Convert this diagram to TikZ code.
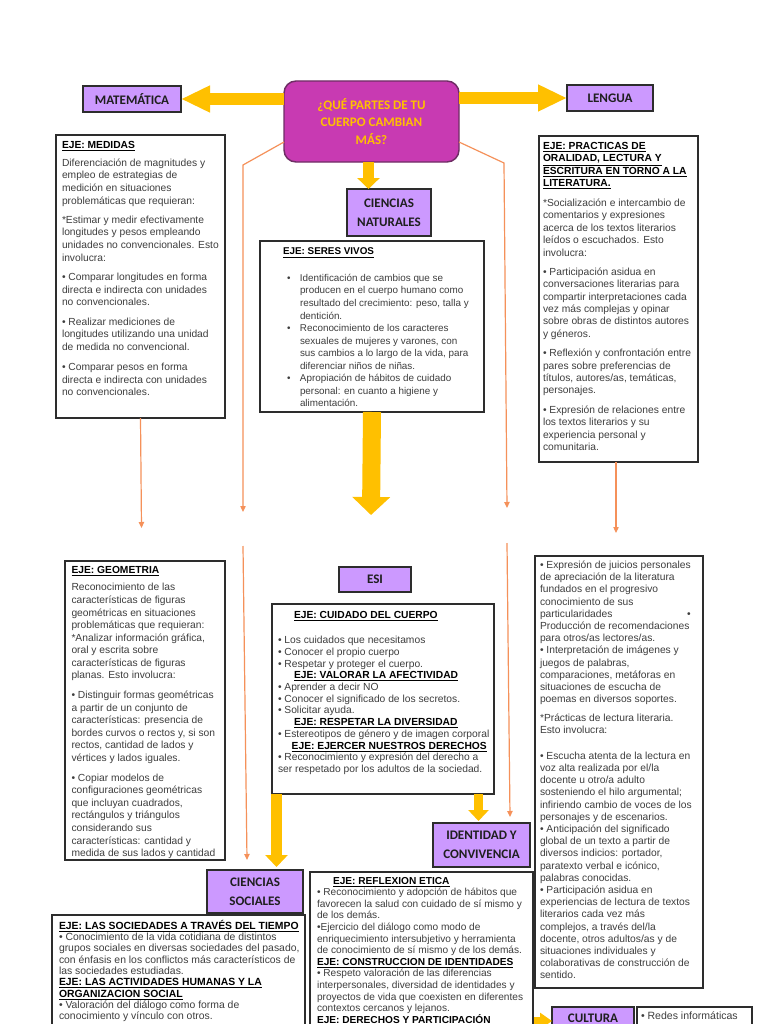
\documentclass[tikz,border=0pt]{standalone}
\usepackage{fontspec}
\setmainfont{Liberation Sans}
\newfontfamily\calfont{Carlito}
\usetikzlibrary{arrows.meta}
\definecolor{lila}{RGB}{204,153,255}
\definecolor{mag}{RGB}{200,58,178}
\definecolor{magb}{RGB}{110,45,100}
\definecolor{amar}{RGB}{255,192,0}
\definecolor{nar}{RGB}{245,145,90}
\definecolor{txt}{RGB}{62,62,62}
\definecolor{brd}{RGB}{45,45,45}
\newcommand\ejeh[1]{{\color{black}\underline{\textbf{#1}}}}
\newcommand\bul{\textbullet\ }
\newcommand\fz[2]{\fontsize{#1}{#2}\selectfont}
\newcommand\bi{\makebox[9.75pt][l]{\textbullet}}
\newcommand\ii{\hspace*{9.75pt}}
\tikzset{
  wh/.style 2 args={minimum width=#1*0.75pt, minimum height=#2*0.75pt},
  ebox/.style={draw=brd, line width=0.9pt, fill=white, inner sep=0pt, outer sep=0pt},
  lbl/.style={draw=brd, line width=0.9pt, fill=lila, inner sep=0pt, outer sep=0pt,
     align=center, text=black!88, font=\calfont\bfseries\fz{9.8}{14.2}},
  cenbox/.style={draw=magb, line width=1.1pt, fill=mag, rounded corners=9pt, inner sep=0pt,
     outer sep=0pt, align=center, text=amar, font=\calfont\bfseries\fz{9.8}{12.9}},
  tx/.style={anchor=north west, inner sep=0pt, outer sep=0pt, align=left, text=txt},
  oA/.style={draw=nar, line width=0.9pt, -{Triangle[width=4pt,length=4.5pt]}},
  yH/.style={draw=amar, line width=8.25pt, -{Triangle[width=18.75pt,length=21.75pt]}},
  yD/.style={draw=amar, line width=8.25pt, -{Triangle[width=16.5pt,length=8.25pt]}},
  yBig/.style={draw=amar, line width=13.5pt, -{Triangle[width=27.75pt,length=13.5pt]}},
  ySm/.style={draw=amar, line width=8.25pt, -{Triangle[width=16.5pt,length=9pt]}},
  yId/.style={draw=amar, line width=6.2pt, -{Triangle[width=15pt,length=8.25pt]}},
  yC/.style={draw=amar, line width=6pt, -{Triangle[width=12pt,length=9pt]}}
}
\begin{document}
\begin{tikzpicture}[x=0.75pt,y=-0.75pt]
\useasboundingbox (0,0) rectangle (768,1024);
\fill[white] (0,0) rectangle (768,1024);
\clip (0,0) rectangle (768,1024);

% ---------- top row
\node[lbl, wh={98}{26}] (mat) at (132,99) {MATEMÁTICA};
\node[cenbox, wh={175}{81}] (cen) at (371.5,121.5) {¿QUÉ PARTES DE TU\\CUERPO CAMBIAN\\MÁS?};
\node[lbl, wh={86}{26}] (len) at (610,98) {LENGUA};
\node[lbl, wh={84}{47}] (cn) at (389,212.5) {CIENCIAS\\NATURALES};

% ---------- boxes
\node[ebox, wh={169}{283}] (me) at (140.5,276.5) {};
\node[ebox, wh={224}{171}] (sv) at (372,326.5) {};
\node[ebox, wh={159}{326}] (pr) at (618.5,299) {};
\node[ebox, wh={160}{299}] (ge) at (145,710.5) {};
\node[lbl, wh={72}{25}] (esi) at (375,579.5) {ESI};
\node[ebox, wh={222}{190}] (cu) at (383,699) {};
\node[ebox, wh={168}{432}] (r2) at (619,772) {};
\node[lbl, wh={97}{44}] (id) at (481.5,845) {IDENTIDAD Y\\CONVIVENCIA};
\node[lbl, wh={96}{43}] (cs) at (255,891.5) {CIENCIAS\\SOCIALES};
\node[ebox, wh={253}{125}] (so) at (178.5,977.5) {};
\node[ebox, wh={223}{168}] (re) at (421.5,956) {};
\node[lbl, wh={82}{23}] (cul) at (593,1018.5) {CULTURA};
\node[ebox, wh={115}{33}] (rd) at (694.5,1023.5) {};

% ---------- texts
\node[tx, font=\fz{7.7}{9.5}] (meT) at (62,141.3) {%
\ejeh{EJE: MEDIDAS}\\[3.7pt]
Diferenciación de magnitudes y\\
empleo de estrategias de\\
medición en situaciones\\
problemáticas que requieran:\\[4.9pt]
*Estimar y medir efectivamente\\
longitudes y pesos empleando\\
unidades no convencionales. Esto\\
involucra:\\[4.9pt]
\bul Comparar longitudes en forma\\
directa e indirecta con unidades\\
no convencionales.\\[4.9pt]
\bul Realizar mediciones de\\
longitudes utilizando una unidad\\
de medida no convencional.\\[5.5pt]
\bul Comparar pesos en forma\\
directa e indirecta con unidades\\
no convencionales.};

\node[tx, font=\fz{7.4}{9.4}] (svT) at (283,248) {%
\ejeh{EJE: SERES VIVOS}\\[10.5pt]
\hspace*{3pt}\bi Identificación de cambios que se\\
\hspace*{3pt}\ii producen en el cuerpo humano como\\
\hspace*{3pt}\ii resultado del crecimiento: peso, talla y\\
\hspace*{3pt}\ii dentición.\\
\hspace*{3pt}\bi Reconocimiento de los caracteres\\
\hspace*{3pt}\ii sexuales de mujeres y varones, con\\
\hspace*{3pt}\ii sus cambios a lo largo de la vida, para\\
\hspace*{3pt}\ii diferenciar niños de niñas.\\
\hspace*{3pt}\bi Apropiación de hábitos de cuidado\\
\hspace*{3pt}\ii personal: en cuanto a higiene y\\
\hspace*{3pt}\ii alimentación.};

\node[tx, font=\fz{7.7}{9.3}] (prT) at (543,142.3) {%
\ejeh{EJE: PRACTICAS DE}\\
\ejeh{ORALIDAD, LECTURA Y}\\
\ejeh{ESCRITURA EN TORNO A LA}\\
\ejeh{LITERATURA.}\\[5.5pt]
*Socialización e intercambio de\\
comentarios y expresiones\\
acerca de los textos literarios\\
leídos o escuchados. Esto\\
involucra:\\[5.2pt]
\bul Participación asidua en\\
conversaciones literarias para\\
compartir interpretaciones cada\\
vez más complejas y opinar\\
sobre obras de distintos autores\\
y géneros.\\[5.2pt]
\bul Reflexión y confrontación entre\\
pares sobre preferencias de\\
títulos, autores/as, temáticas,\\
personajes.\\[5.2pt]
\bul Expresión de relaciones entre\\
los textos literarios y su\\
experiencia personal y\\
comunitaria.};

\begin{scope}
\clip (65,561) rectangle (225,860);
\node[tx, font=\fz{7.7}{9.4}] (geT) at (71.5,566.3) {%
\ejeh{EJE: GEOMETRIA}\\[3.7pt]
Reconocimiento de las\\
características de figuras\\
geométricas en situaciones\\
problemáticas que requieran:\\
*Analizar información gráfica,\\
oral y escrita sobre\\
características de figuras\\
planas. Esto involucra:\\[5.6pt]
\bul Distinguir formas geométricas\\
a partir de un conjunto de\\
características: presencia de\\
bordes curvos o rectos y, si son\\
rectos, cantidad de lados y\\
vértices y lados iguales.\\[5.6pt]
\bul Copiar modelos de\\
configuraciones geométricas\\
que incluyan cuadrados,\\
rectángulos y triángulos\\
considerando sus\\
características: cantidad y\\
medida de sus lados y cantidad\\
de vértices.};
\end{scope}

\node[tx, font=\fz{7.7}{8.8}] (cuT) at (278,611.3) {%
\hspace*{12pt}\ejeh{EJE: CUIDADO DEL CUERPO}\\[10pt]
\bul Los cuidados que necesitamos\\
\bul Conocer el propio cuerpo\\
\bul Respetar y proteger el cuerpo.\\
\hspace*{12pt}\ejeh{EJE: VALORAR LA AFECTIVIDAD}\\
\bul Aprender a decir NO\\
\bul Conocer el significado de los secretos.\\
\bul Solicitar ayuda.\\
\hspace*{12pt}\ejeh{EJE: RESPETAR LA DIVERSIDAD}\\
\bul Estereotipos de género y de imagen corporal\\
\hspace*{10.3pt}\ejeh{EJE: EJERCER NUESTROS DERECHOS}\\
\bul Reconocimiento y expresión del derecho a\\
ser respetado por los adultos de la sociedad.};

\node[tx, font=\fz{7.7}{9.15}] (r2T) at (540,561) {%
\bul Expresión de juicios personales\\
de apreciación de la literatura\\
fundados en el progresivo\\
conocimiento de sus\\
\makebox[113pt][l]{particularidades\hfill\textbullet}\\
Producción de recomendaciones\\
para otros/as lectores/as.\\
\bul Interpretación de imágenes y\\
juegos de palabras,\\
comparaciones, metáforas en\\
situaciones de escucha de\\
poemas en diversos soportes.\\[4.6pt]
*Prácticas de lectura literaria.\\
Esto involucra:\\[10.3pt]
\bul Escucha atenta de la lectura en\\
voz alta realizada por el/la\\
docente u otro/a adulto\\
sosteniendo el hilo argumental;\\
infiriendo cambio de voces de los\\
personajes y de escenarios.\\
\bul Anticipación del significado\\
global de un texto a partir de\\
diversos indicios: portador,\\
paratexto verbal e icónico,\\
palabras conocidas.\\
\bul Participación asidua en\\
experiencias de lectura de textos\\
literarios cada vez más\\
complejos, a través del/la\\
docente, otros adultos/as y de\\
situaciones individuales y\\
colaborativas de construcción de\\
sentido.};

\node[tx, font=\fz{7.8}{8.5}] (soT) at (59,919.8) {%
\ejeh{EJE: LAS SOCIEDADES A TRAVÉS DEL TIEMPO}\\
\bul Conocimiento de la vida cotidiana de distintos\\
grupos sociales en diversas sociedades del pasado,\\
con énfasis en los conflictos más característicos de\\
las sociedades estudiadas.\\
\ejeh{EJE: LAS ACTIVIDADES HUMANAS Y LA}\\
\ejeh{ORGANIZACION SOCIAL}\\
\bul Valoración del diálogo como forma de\\
conocimiento y vínculo con otros.};

\node[tx, font=\fz{7.6}{8.7}] (reT) at (317,877) {%
\hspace*{12pt}\ejeh{EJE: REFLEXION ETICA}\\
\bul Reconocimiento y adopción de hábitos que\\
favorecen la salud con cuidado de sí mismo y\\
de los demás.\\
•Ejercicio del diálogo como modo de\\
enriquecimiento intersubjetivo y herramienta\\
de conocimiento de sí mismo y de los demás.\\
\ejeh{EJE: CONSTRUCCION DE IDENTIDADES}\\
\bul Respeto valoración de las diferencias\\
interpersonales, diversidad de identidades y\\
proyectos de vida que coexisten en diferentes\\
contextos cercanos y lejanos.\\
\ejeh{EJE: DERECHOS Y PARTICIPACIÓN}};

\node[tx, font=\fz{7.9}{9}] (rdT) at (641,1012) {\bul Redes informáticas};

% ---------- orange connectors
\coordinate (oL0) at (284,142);
\coordinate (oL1) at (243,165);
\coordinate (oL2) at (243,512);
\coordinate (oL3) at (243,546);
\coordinate (oL4) at (247,860);
\coordinate (oR0) at (459,142);
\coordinate (oR1) at (504,163);
\coordinate (oR2) at (507,508);
\coordinate (oR3) at (507,543);
\coordinate (oR4) at (510,817);
\coordinate (oM) at (141.5,528);
\coordinate (oP) at (616,533);
\draw[oA] (oL0) -- (oL1) -- (oL2);
\draw[oA] (oL3) -- (oL4);
\draw[oA] (oR0) -- (oR1) -- (oR2);
\draw[oA] (oR3) -- (oR4);
\draw[oA] (me.south) -- (oM);
\draw[oA] (pr.south -| oP) -- (oP);

% ---------- yellow arrows
\draw[yH] (mat.east -| cen.west) -- (mat.east);
\draw[yH] (len.west -| cen.east) -- (len.west);
\coordinate (dA) at (368.5,162);
\draw[yD] (dA) -- (dA |- cn.north);
\coordinate (bigtip) at (371,515);
\draw[yBig] (sv.south) -- (bigtip);
\coordinate (csA) at (276.5,794);
\coordinate (csB) at (276.5,867);
\draw[ySm] (csA) -- (csB);
\coordinate (idA) at (478.5,794);
\coordinate (idB) at (478.5,821);
\draw[yId] (idA) -- (idB);
\coordinate (cA) at (534,1021);
\draw[yC] (cA) -- (cA -| cul.west);
\end{tikzpicture}
\end{document}
